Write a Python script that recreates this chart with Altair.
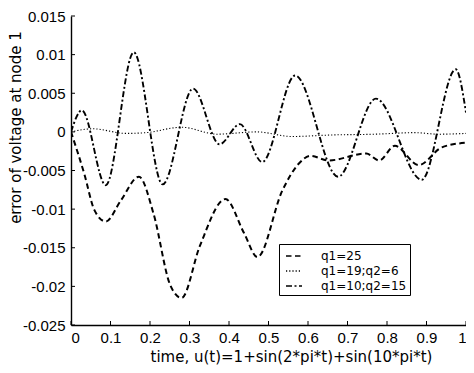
import altair as alt
import pandas as pd

# series: q1=25 (dashed)
t_a = [0, 0.034, 0.059, 0.088, 0.126, 0.172, 0.209, 0.251, 0.28, 0.326, 0.391, 0.438, 0.472,
       0.535, 0.577, 0.606, 0.652, 0.7475, 0.78, 0.82, 0.88, 0.939, 1.0]
y_a = [0, -0.0055, -0.0101, -0.0116, -0.0089, -0.0058, -0.0106, -0.0198, -0.0215, -0.0148, -0.0087,
       -0.0131, -0.0162, -0.0076, -0.0041, -0.0031, -0.0037, -0.0028, -0.0037, -0.0018, -0.0043,
       -0.0020, -0.0014]

# series: q1=19;q2=6 (dotted)
t_b = [0, 0.055, 0.14, 0.19, 0.28, 0.37, 0.47, 0.56, 0.66, 0.77, 0.87, 0.93, 1.0]
y_b = [0, 0.0004, -0.0002, -0.0001, 0.0006, -0.0003, 0.0000, -0.0006, -0.0004, -0.0003, -0.0001,
       -0.0003, -0.0002]

# series: q1=10;q2=15 (dash-dot)
t_c = [0, 0.0275, 0.088, 0.159, 0.232, 0.309, 0.376, 0.4275, 0.484, 0.5675, 0.676, 0.772, 0.888,
       0.974, 1.0]
y_c = [0, 0.0028, -0.0069, 0.0103, -0.0068, 0.0056, -0.0016, 0.0010, -0.0039, 0.0073, -0.0058,
       0.0043, -0.0062, 0.0081, 0.0025]

names = ["q1=25", "q1=19;q2=6", "q1=10;q2=15"]
widths = [2.0, 1.1, 1.9]
x_ticks = [0, 0.1, 0.2, 0.3, 0.4, 0.5, 0.6, 0.7, 0.8, 0.9, 1]
y_ticks = [-0.025, -0.02, -0.015, -0.01, -0.005, 0, 0.005, 0.01, 0.015]

rows = []
for name, ts, ys in zip(names, [t_a, t_b, t_c], [y_a, y_b, y_c]):
    for t, y in zip(ts, ys):
        rows.append({"t": t, "y": y, "series": name})
df = pd.DataFrame(rows)

W, H = 395, 309
xs = alt.Scale(domain=[0, 1], nice=False, zero=False)
ys = alt.Scale(domain=[-0.025, 0.015], nice=False, zero=False)

x_axis = alt.Axis(values=x_ticks, labelExpr="'' + datum.value",
                  title="time, u(t)=1+sin(2*pi*t)+sin(10*pi*t)",
                  titleX=220, titleY=36, titleAnchor="middle", titleBaseline="alphabetic")
y_axis = alt.Axis(values=y_ticks, labelExpr="'' + datum.value",
                  title="error of voltage at node 1",
                  titleX=-63, titleY=111, titleAngle=270, titleBaseline="top",
                  titleAnchor="middle")

dash = alt.StrokeDash(
    "series:N",
    scale=alt.Scale(domain=names, range=[[5.5, 3.5], [1.2, 2], [6, 2.5, 2, 2.5]]),
    legend=alt.Legend(title=None, orient="none", legendX=208, legendY=228,
                      symbolType="stroke", symbolSize=256, symbolStrokeWidth=1.7,
                      symbolStrokeColor="black", symbolOffset=3,
                      labelOffset=18, rowPadding=0, padding=3,
                      strokeColor="black", fillColor="white",
                      labelFont="DejaVu Sans", labelFontSize=12, labelColor="black",
                      labelExpr="datum.label + '   '"),
)

layers = []
for name, w in zip(names, widths):
    layers.append(
        alt.Chart(df).transform_filter(alt.datum.series == name)
        .mark_line(interpolate="monotone", color="black", strokeWidth=w, clip=True)
        .encode(x=alt.X("t:Q", scale=xs, axis=x_axis),
                y=alt.Y("y:Q", scale=ys, axis=y_axis),
                strokeDash=dash)
    )

xt = pd.DataFrame({"t": x_ticks})
yt = pd.DataFrame({"y": y_ticks})
xtick_layer = alt.Chart(xt).mark_rule(color="black", strokeWidth=1).encode(
    x=alt.X("t:Q", scale=xs, axis=x_axis), y=alt.value(H - 4), y2=alt.value(H))
ytick_layer = alt.Chart(yt).mark_rule(color="black", strokeWidth=1).encode(
    y=alt.Y("y:Q", scale=ys, axis=y_axis), x=alt.value(0), x2=alt.value(4))

chart = alt.layer(*layers, xtick_layer, ytick_layer).properties(
    width=W, height=H,
    autosize=alt.AutoSizeParams(type="none"),
    padding={"left": 63, "top": 8, "right": 0, "bottom": 40},
).configure_view(stroke=None).configure_axis(
    grid=False, ticks=False, domainColor="black", domainWidth=1.4,
    labelFont="Liberation Sans", labelFontSize=15, labelColor="black",
    titleFont="DejaVu Sans", titleFontSize=15, titleFontWeight="normal", titleColor="black",
    labelPadding=5,
).configure_axisY(labelPadding=6)

chart.save("out.html", embed_options={"renderer": "svg", "actions": False})
